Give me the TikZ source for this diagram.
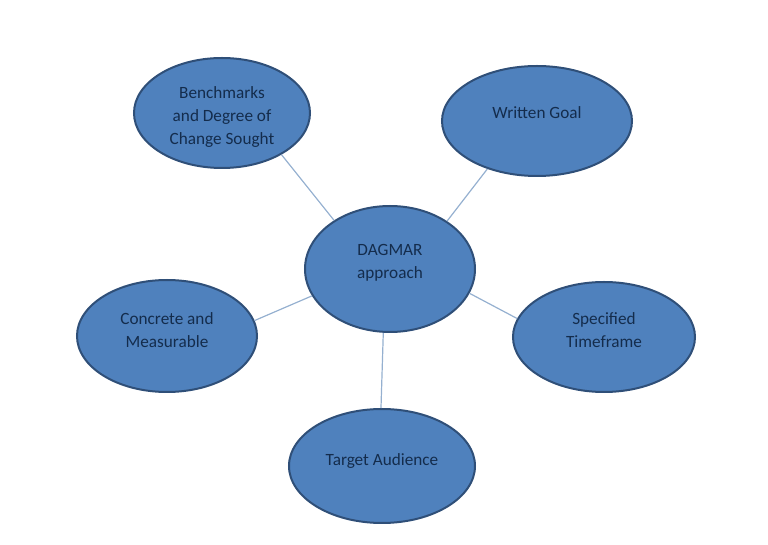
\documentclass[tikz,border=0pt]{standalone}
\usepackage{fontspec}
\setmainfont{Carlito}
\usetikzlibrary{shapes.geometric}
\definecolor{bubblefill}{HTML}{4F81BD}
\definecolor{bubbleedge}{HTML}{2F4F78}
\definecolor{bubbletext}{HTML}{142C4C}
\definecolor{spokeline}{HTML}{95B0D0}
\begin{document}
\begin{tikzpicture}[x = 0.5pt, y = -0.5pt,
        bubble/.style = {ellipse, draw = bubbleedge, line width = 1pt, fill = bubblefill,
            inner sep = 0pt, minimum width = 90pt, minimum height = 56pt},
        caption/.style = {text = bubbletext, inner sep = 0pt, align = center,
            font = \fontsize{8.6}{11.4}\selectfont},
        spoke/.style = {draw = spokeline, line width = 0.6pt}]
    \useasboundingbox (0, 0) rectangle (768, 545);
    % centre
    \node[bubble, minimum width = 85pt, minimum height = 63pt,
        label = {[caption, yshift = 3pt]center:{DAGMAR\\approach}}] (dagmar) at (390, 269) {};
    % outer bubbles
    \node[bubble, minimum width = 88pt, minimum height = 55pt,
        label = {[caption, yshift = -2pt]center:{Benchmarks\\and Degree of\\Change Sought}}]
        (bench) at (222, 113) {};
    \node[bubble, minimum width = 95pt, minimum height = 55pt,
        label = {[caption, yshift = 4pt]center:{Written Goal}}] (goal) at (537, 121) {};
    \node[bubble, minimum width = 90pt, minimum height = 56pt,
        label = {[caption, yshift = 3pt]center:{Concrete and\\Measurable}}] (concrete) at (167, 336) {};
    \node[bubble, minimum width = 91pt, minimum height = 55pt,
        label = {[caption, yshift = 3.5pt]center:{Specified\\Timeframe}}] (timeframe) at (604, 337) {};
    \node[bubble, minimum width = 93pt, minimum height = 57pt,
        label = {[caption, yshift = 2.5pt]center:{Target Audience}}] (audience) at (382, 466) {};
    % spokes
    \draw[spoke] (bench.-35) -- (dagmar.139);
    \draw[spoke] (goal.-136) -- (dagmar.40);
    \draw[spoke] (concrete.10) -- (dagmar.-161);
    \draw[spoke] (timeframe.168) -- (dagmar.-17);
    \draw[spoke] (audience.91) -- (dagmar.-96);
\end{tikzpicture}
\end{document}
